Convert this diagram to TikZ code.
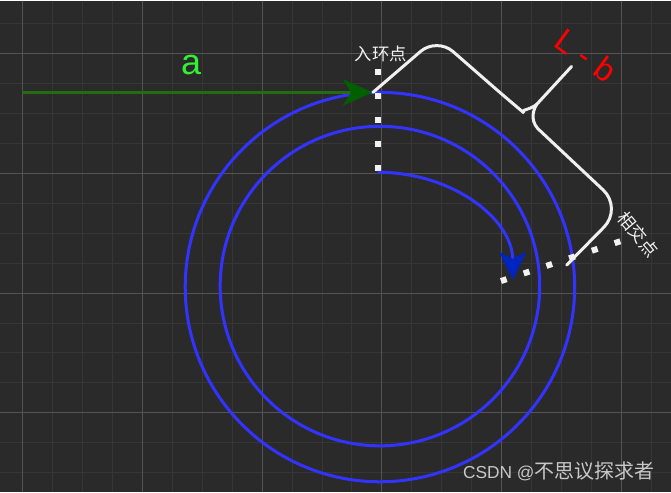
\documentclass[tikz,border=0pt]{standalone}
\usepackage{fontspec}
\setmainfont{Liberation Sans}
\newfontfamily\cjk{Noto Sans CJK SC}
\usepackage{tikz}
\usetikzlibrary{arrows.meta}

\definecolor{bgcol}{RGB}{42,42,42}
\definecolor{gridminor}{RGB}{54,54,54}
\definecolor{gridmajor}{RGB}{84,84,84}
\definecolor{ringblue}{RGB}{51,51,255}
\definecolor{tipblue}{RGB}{0,36,190}
\definecolor{pathgreen}{RGB}{36,108,18}
\definecolor{tipgreen}{RGB}{0,96,0}
\definecolor{labelgreen}{RGB}{51,240,51}
\definecolor{marksgray}{RGB}{200,200,200}

\tikzset{
  ring/.style={draw=ringblue, line width=2.25pt},
  dots/.style={draw=white!95!black, line width=4.5pt, dash pattern=on 4.5pt off 13.5pt},
  bracepath/.style={draw=white!94!black, line width=2.25pt, line cap=round},
  cjklabel/.style={font=\cjk\fontsize{13}{15}\selectfont, text=white!95!black, inner sep=0pt},
}

\begin{document}
\begin{tikzpicture}[x=0.75pt, y=-0.75pt]
                \fill[bgcol] (0,0) rectangle (671,492);
                \foreach \gx in {22,52,...,652} \draw[gridminor, line width=0.75pt] (\gx,0) -- (\gx,492);
                \foreach \gy in {23,53,...,473} \draw[gridminor, line width=0.75pt] (0,\gy) -- (671,\gy);
                \foreach \gx in {22,142,...,622} \draw[gridmajor, line width=0.75pt] (\gx,0) -- (\gx,492);
                \foreach \gy in {53,173,...,413} \draw[gridmajor, line width=0.75pt] (0,\gy) -- (671,\gy);

                \coordinate (start) at (22,92);
                \coordinate (entry) at (373,92);
                \coordinate (walk) at (378,172);
                \coordinate (stop) at (513,280);
                \coordinate (knot) at (537,104);
                \coordinate (tipend) at (572,66);
                \coordinate (meet) at (567,265);

                \draw[ring] (380,287) circle[radius=146.25pt];
                \draw[ring] (380,286) circle[radius=120pt];

                \draw[dots] (378,69) -- (378,171);
                \draw[dots] (501.2,281) -- (620.8,241.1);

                \draw[ring, -{Stealth[length=21pt, width=20pt, inset=5pt, color=tipblue]}] (walk) .. controls (452.6,172) and (513,219) .. (stop);
                \draw[pathgreen, line width=2.25pt, -{Stealth[length=22.5pt, width=19.5pt, inset=6pt, color=tipgreen]}] (start) -- (entry);

                \draw[bracepath, rounded corners=16pt] (entry) -- (437,37) -- (508,99) .. controls (520,109) and (530,110) .. (knot);
                \draw[bracepath] (knot) -- (tipend);
                \draw[bracepath] (knot) .. controls (532,112) and (531,123) .. (541,131) [rounded corners=20pt] -- (623,208) -- (meet);

                \node[cjklabel] (entrylabel) at (381,53) {入环点};
                \node[cjklabel, rotate=-50] (meetlabel) at (638.5,234) {相交点};
                \node[font=\fontsize{27}{27}\selectfont, text=labelgreen, inner sep=0pt, anchor=base] (alabel) at (191,74) {a};
                \node[font=\fontsize{24.5}{24.5}\selectfont, text=red, inner sep=0pt, anchor=base west, rotate=-36] (lblabel) at (553,45) {L - b};
                \node[text=marksgray, inner sep=0pt, anchor=base east] (mark) at (655,479) {{\fontsize{13}{15}\selectfont CSDN @}{\cjk\fontsize{15}{17}\selectfont 不思议探求者}};
\end{tikzpicture}
\end{document}
